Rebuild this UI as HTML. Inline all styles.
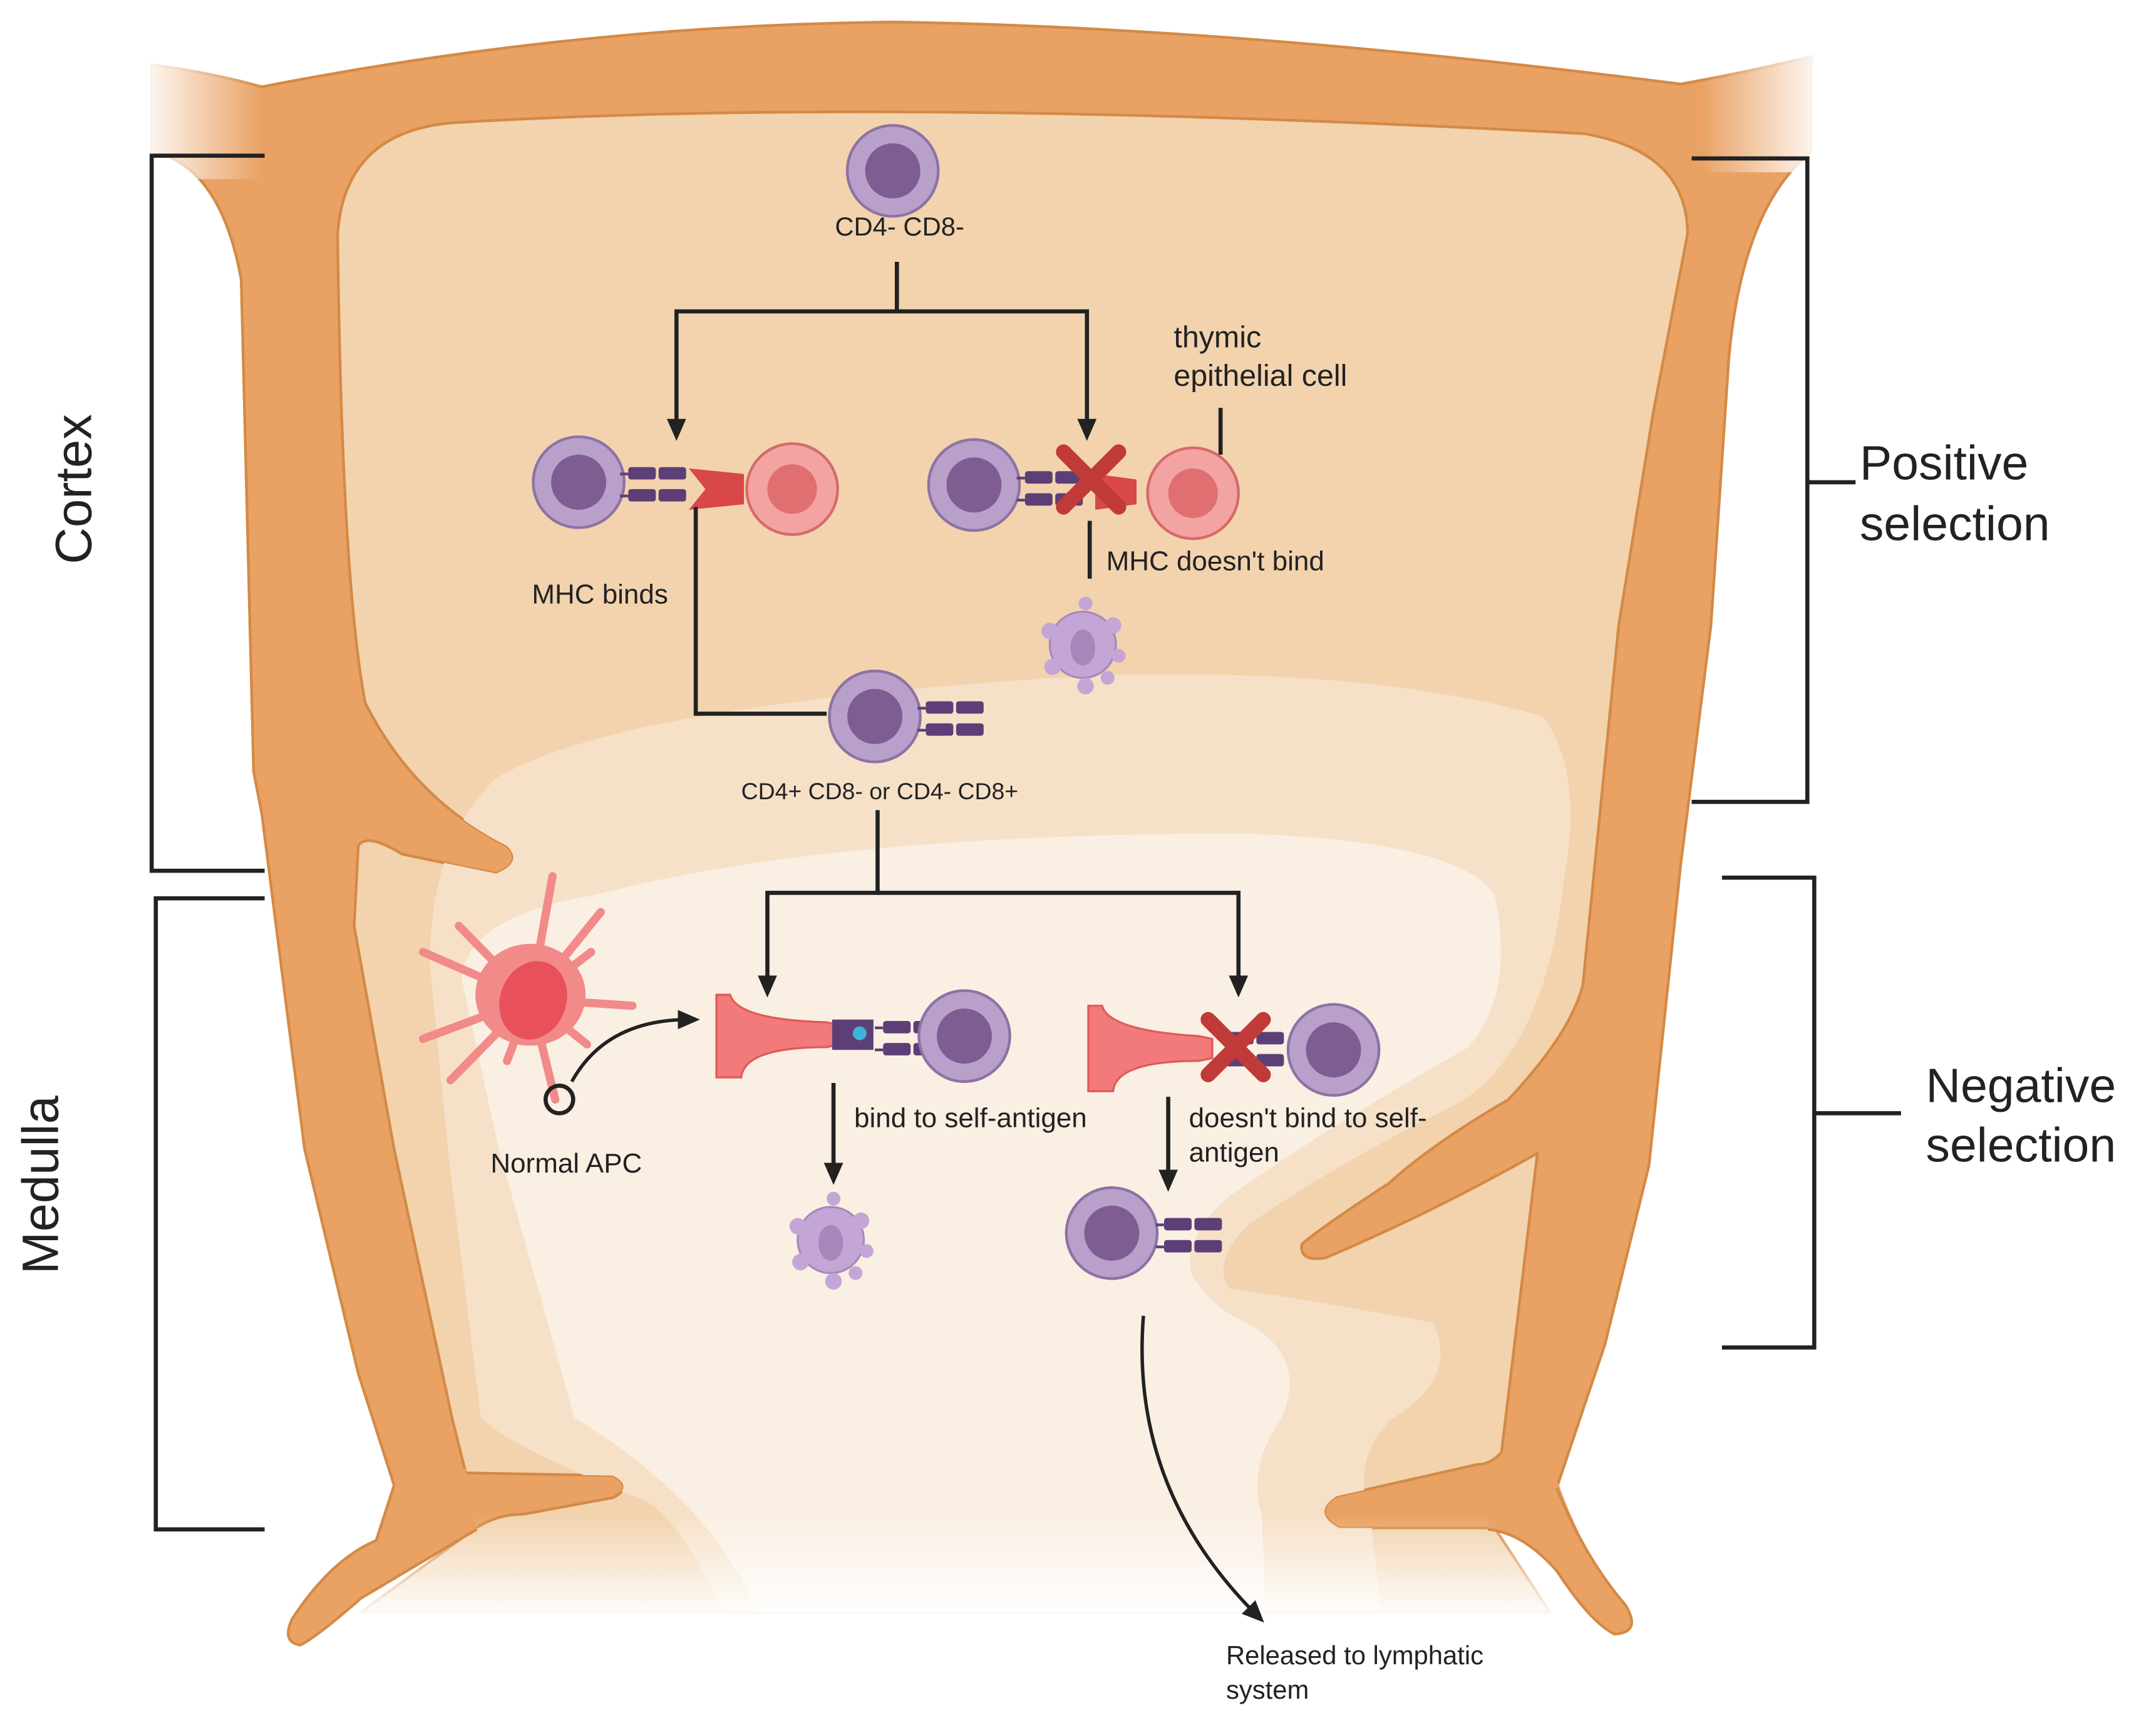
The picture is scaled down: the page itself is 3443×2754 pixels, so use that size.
<!DOCTYPE html>
<html><head><meta charset="utf-8"><style>
html,body{margin:0;padding:0;background:#fff;}
svg{display:block;}
text{font-family:"Liberation Sans",Arial,sans-serif;fill:#222;}
</style></head><body>
<svg width="3443" height="2754" viewBox="0 0 1565 1252" xmlns="http://www.w3.org/2000/svg">
<defs>
<linearGradient id="fadeL" x1="0" x2="1"><stop offset="0" stop-color="#fff" stop-opacity="1"/><stop offset="1" stop-color="#fff" stop-opacity="0"/></linearGradient>
<linearGradient id="fadeR" x1="1" x2="0"><stop offset="0" stop-color="#fff" stop-opacity="1"/><stop offset="1" stop-color="#fff" stop-opacity="0"/></linearGradient>
<linearGradient id="fadeB" x1="0" y1="0" x2="0" y2="1"><stop offset="0" stop-color="#fff" stop-opacity="0"/><stop offset="1" stop-color="#fff" stop-opacity="1"/></linearGradient>
<marker id="ah" markerWidth="16" markerHeight="16" refX="8" refY="8" orient="auto" markerUnits="userSpaceOnUse" viewBox="0 0 16 16"><path d="M0,1 L16,8 L0,15 z" fill="#222"/></marker>
<clipPath id="inner"><path id="innerPath" d="M330,89 Q650,70 1150,97 Q1225,110 1225,170 L1200,300 L1175,454 L1149,715 Q1140,750 1095,798 Q1040,830 1008,859 Q960,890 945,903 Q943,916 962,913 Q1040,880 1116,837 L1090,1054 Q1082,1063 1072,1063 L970,1086 Q952,1098 972,1109 L1085,1109 L1125,1170 L262,1170 L344,1110 Q360,1099 380,1099 L445,1087 Q460,1079 445,1071 L338,1069 L328,1029 L286,834 L257,672 L260,614 Q266,604 292,620 L360,634 Q380,626 368,614 Q300,580 265,510 Q248,420 245,170 Q250,95 330,89 Z"/></clipPath>
<g id="lym"><circle r="33" fill="#b9a0cb" stroke="#8d72a3" stroke-width="2"/><circle r="20" fill="#7d5d92"/></g>
<g id="bars"><rect x="0" y="-13" width="20" height="9" rx="2" fill="#5d3f78"/><rect x="22" y="-13" width="20" height="9" rx="2" fill="#5d3f78"/><rect x="0" y="3" width="20" height="9" rx="2" fill="#5d3f78"/><rect x="22" y="3" width="20" height="9" rx="2" fill="#5d3f78"/><line x1="-6" y1="-8" x2="0" y2="-8" stroke="#5d3f78" stroke-width="2"/><line x1="-6" y1="8" x2="0" y2="8" stroke="#5d3f78" stroke-width="2"/></g>
<g id="pink"><circle r="33" fill="#f4a3a3" stroke="#d66a6a" stroke-width="2"/><circle r="18" fill="#e06f72"/></g>
<g id="dead"><circle r="24" fill="#c4a6d6" stroke="#a788bd" stroke-width="1.5"/>
<circle cx="-24" cy="-10" r="6" fill="#c4a6d6"/><circle cx="22" cy="-14" r="6" fill="#c4a6d6"/><circle cx="26" cy="8" r="5" fill="#c4a6d6"/><circle cx="-22" cy="16" r="6" fill="#c4a6d6"/><circle cx="2" cy="-30" r="5" fill="#c4a6d6"/><circle cx="2" cy="30" r="6" fill="#c4a6d6"/><circle cx="18" cy="24" r="5" fill="#c4a6d6"/>
<ellipse cx="0" cy="2" rx="9" ry="13" fill="#a786bb"/></g>
<g id="xx"><path d="M-20,-20 L20,20 M20,-20 L-20,20" stroke="#c03a3a" stroke-width="11" stroke-linecap="round"/></g>
</defs>

<!-- orange capsule -->
<path d="M110,47 Q150,52 190,63 Q420,18 650,16 Q900,20 1220,61 Q1270,52 1315,41 L1315,110 Q1265,150 1255,260 L1242,454 L1220,628 L1197,846 L1165,976 L1130,1080 L1085,1110 L344,1110 L286,1078 L260,997 L221,834 L190,591 L184,560 L175,203 Q160,120 110,110 Z" fill="#e9a264" stroke="#d48a45" stroke-width="2"/>
<rect x="100" y="30" width="90" height="100" fill="url(#fadeL)"/>
<rect x="1235" y="25" width="90" height="100" fill="url(#fadeR)"/>

<!-- interior -->
<use href="#innerPath" fill="#f2d3ae" stroke="#d48a45" stroke-width="2"/>
<g clip-path="url(#inner)">
<path d="M360,565 Q450,510 800,490 Q1000,485 1120,520 Q1150,560 1135,640 Q1122,760 1060,800 Q960,850 905,890 Q880,915 892,935 Q960,945 1040,960 Q1060,1000 1010,1030 Q980,1060 995,1100 L1005,1200 L540,1200 Q500,1110 470,1090 Q370,1050 349,1029 L325,834 L312,700 Q312,610 360,565 Z" fill="#f6e1c8"/>
<path d="M430,650 Q600,605 900,605 Q1060,610 1085,650 Q1100,720 1066,760 Q960,820 890,870 Q858,900 865,925 Q880,950 905,960 Q950,985 930,1030 Q905,1065 916,1100 L920,1200 L560,1200 Q534,1100 417,1029 L362,834 L335,710 Q340,665 430,650 Z" fill="#faefe3"/>
</g>
<rect x="250" y="1100" width="900" height="76" fill="url(#fadeB)"/>

<!-- feet -->
<path d="M287,1076 L273,1118 Q240,1132 212,1175 Q204,1192 218,1194 Q230,1188 262,1160 L346,1110 L338,1066 Z" fill="#e9a264"/>
<path d="M286,1078 L273,1118 Q240,1132 212,1175 Q204,1192 218,1194 Q230,1188 262,1160 L346,1110" fill="none" stroke="#d48a45" stroke-width="2"/>
<path d="M1131,1076 Q1150,1130 1180,1165 Q1192,1185 1172,1186 Q1155,1178 1130,1140 Q1105,1112 1080,1110 L1090,1054 Z" fill="#e9a264"/>
<path d="M1130,1080 Q1150,1130 1180,1165 Q1192,1185 1172,1186 Q1155,1178 1130,1140 Q1105,1112 1080,1110" fill="none" stroke="#d48a45" stroke-width="2"/>

<!-- brackets -->
<g fill="none" stroke="#222" stroke-width="3">
<path d="M192,113 H110 V632 H192"/>
<path d="M192,652 H113 V1110 H192"/>
<path d="M1228,115 H1312 V582 H1228 M1312,350 H1347"/>
<path d="M1250,637 H1317 V978 H1250 M1317,808 H1380"/>
</g>
<text transform="translate(66,355) rotate(-90)" font-size="37" text-anchor="middle">Cortex</text>
<text transform="translate(42,860) rotate(-90)" font-size="37" text-anchor="middle">Medulla</text>
<text x="1350" y="348" font-size="35">Positive</text>
<text x="1350" y="392" font-size="35">selection</text>
<text x="1398" y="800" font-size="35">Negative</text>
<text x="1398" y="843" font-size="35">selection</text>

<!-- top cell -->
<use href="#lym" x="648" y="124"/>
<text x="653" y="171" font-size="19" text-anchor="middle">CD4- CD8-</text>
<g fill="none" stroke="#222" stroke-width="3">
<path d="M651,190 V226 H491 V312" marker-end="url(#ah)"/>
<path d="M651,226 H789 V312" marker-end="url(#ah)"/>
</g>

<!-- left pair -->
<use href="#lym" x="420" y="350"/>
<use href="#bars" x="456" y="352"/>
<path d="M500,340 L540,344 L540,366 L500,370 L512,355 Z" fill="#d8474a"/>
<use href="#pink" x="575" y="355"/>
<text x="386" y="438" font-size="20">MHC binds</text>
<path d="M505,368 V518 H600" fill="none" stroke="#222" stroke-width="3"/>

<!-- right pair -->
<use href="#lym" x="707" y="352"/>
<use href="#bars" x="744" y="355"/>
<path d="M795,344 L825,348 L825,366 L795,370 Z" fill="#d8474a"/>
<use href="#pink" x="866" y="358"/>
<use href="#xx" x="792" y="348"/>
<text x="852" y="252" font-size="22">thymic</text>
<text x="852" y="280" font-size="22">epithelial cell</text>
<line x1="886" y1="296" x2="886" y2="330" stroke="#222" stroke-width="3"/>
<line x1="791" y1="378" x2="791" y2="420" stroke="#222" stroke-width="3"/>
<text x="803" y="414" font-size="20">MHC doesn't bind</text>
<use href="#dead" x="786" y="468"/>

<!-- middle cell -->
<use href="#lym" x="635" y="520"/>
<use href="#bars" x="672" y="522"/>
<text x="538" y="580" font-size="17">CD4+ CD8- or CD4- CD8+</text>
<g fill="none" stroke="#222" stroke-width="3">
<path d="M637,588 V648 H557 V716" marker-end="url(#ah)"/>
<path d="M637,648 H899 V716" marker-end="url(#ah)"/>
</g>

<!-- APC -->
<g stroke="#f28a8a" stroke-width="6" stroke-linecap="round" fill="none">
<path d="M385,725 L401,636"/><path d="M385,725 L436,662"/><path d="M385,725 L429,691"/><path d="M385,725 L459,730"/><path d="M385,725 L426,758"/><path d="M385,725 L403,798"/><path d="M385,725 L368,770"/><path d="M385,725 L327,784"/><path d="M385,725 L307,754"/><path d="M385,725 L307,691"/><path d="M385,725 L333,672"/>
</g>
<ellipse cx="385" cy="722" rx="40" ry="37" fill="#f28a8a"/>
<ellipse cx="387" cy="726" rx="24" ry="29" transform="rotate(20 387 726)" fill="#e8505a"/>
<circle cx="406" cy="798" r="10" fill="none" stroke="#222" stroke-width="3"/>
<path d="M415,785 Q440,740 500,740" fill="none" stroke="#222" stroke-width="2.5" marker-end="url(#ah)"/>
<text x="356" y="851" font-size="20">Normal APC</text>

<!-- left medulla interaction -->
<path d="M520,722 H530 Q535,740 600,742 L610,744 L610,758 L600,760 Q540,760 538,782 H520 Z" fill="#f27a7a" stroke="#e05a5a" stroke-width="1.5"/>
<rect x="604" y="740" width="30" height="22" fill="#5d3f78"/>
<circle cx="624" cy="750" r="5" fill="#3db3d6"/>
<use href="#bars" x="641" y="754"/>
<use href="#lym" x="700" y="752"/>
<line x1="605" y1="786" x2="605" y2="852" stroke="#222" stroke-width="3" marker-end="url(#ah)"/>
<text x="620" y="818" font-size="20">bind to self-antigen</text>
<use href="#dead" x="603" y="900"/>

<!-- right medulla interaction -->
<path d="M790,730 H800 Q805,748 870,752 L880,754 L880,768 L870,770 Q810,770 808,792 H790 Z" fill="#f27a7a" stroke="#e05a5a" stroke-width="1.5"/>
<use href="#bars" x="890" y="762"/>
<use href="#lym" x="968" y="762"/>
<use href="#xx" x="897" y="760"/>
<line x1="848" y1="796" x2="848" y2="857" stroke="#222" stroke-width="3" marker-end="url(#ah)"/>
<text x="863" y="818" font-size="20">doesn't bind to self-</text>
<text x="863" y="843" font-size="20">antigen</text>
<use href="#lym" x="807" y="895"/>
<use href="#bars" x="845" y="897"/>
<path d="M830,955 Q820,1080 912,1172" fill="none" stroke="#222" stroke-width="2.5" marker-end="url(#ah)"/>
<text x="890" y="1208" font-size="19">Released to lymphatic</text>
<text x="890" y="1233" font-size="19">system</text>
</svg>
</body></html>
